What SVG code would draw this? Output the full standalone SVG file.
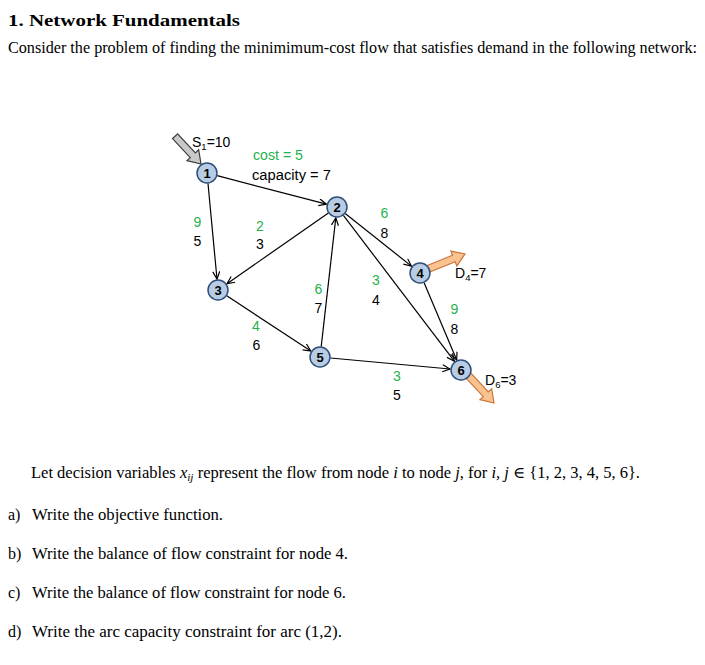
<svg xmlns="http://www.w3.org/2000/svg" width="705" height="665" viewBox="0 0 705 665">
<defs>
<marker id="ah" markerWidth="10" markerHeight="10" refX="8" refY="4" orient="auto" markerUnits="userSpaceOnUse">
<path d="M0.5,0.5 L8,4 L0.5,7.5" fill="none" stroke="#000" stroke-width="1.2"/>
</marker>
</defs>
<style>
.tex{font-family:"Liberation Serif","DejaVu Serif",serif;font-size:16px;fill:#000}
.lab{font-family:"Liberation Sans",Arial,sans-serif;font-size:14px;fill:#000}
.g{fill:#1fb24c}
.node circle{fill:#b8cce4;stroke:#2f4f7a;stroke-width:1.5}
.node text{font-family:"Liberation Sans",Arial,sans-serif;font-size:13px;font-weight:bold;fill:#000;text-anchor:middle}
.edge{stroke:#000;stroke-width:1.2;fill:none;marker-end:url(#ah)}
.num{text-anchor:middle}
.dem{fill:#f9c28f;stroke:#c8763a;stroke-width:1.2}
</style>
<rect width="705" height="665" fill="#fff"/>
<text class="tex" x="8" y="26" font-size="17" font-weight="bold" textLength="232" lengthAdjust="spacingAndGlyphs">1. Network Fundamentals</text>
<text class="tex" x="8" y="53" textLength="689" lengthAdjust="spacingAndGlyphs">Consider the problem of finding the minimimum-cost flow that satisfies demand in the following network:</text>

<g id="connectors">
<line class="edge" x1="217.2" y1="175.7" x2="326.4" y2="204.2"/>
<line class="edge" x1="208" y1="183.5" x2="217" y2="279"/>
<line class="edge" x1="328.4" y1="213" x2="227" y2="283.7"/>
<line class="edge" x1="226.8" y1="295.8" x2="310.8" y2="351"/>
<line class="edge" x1="321.2" y1="346.6" x2="335.8" y2="217.9"/>
<line class="edge" x1="345.2" y1="213.5" x2="411.4" y2="266.1"/>
<line class="edge" x1="343.4" y1="215.4" x2="454.3" y2="361.2"/>
<line class="edge" x1="424.1" y1="282.7" x2="456.7" y2="359.9"/>
<line class="edge" x1="330.5" y1="358" x2="450" y2="369"/>
</g>

<g id="supply1">
<polygon transform="translate(201,164) rotate(47)" points="-38,-3.5 -12,-3.5 -12,-8 0,0 -12,8 -12,3.5 -38,3.5" fill="#c9c9c9" stroke="#3a3a3a" stroke-width="1.2"/>
<text class="lab" x="192" y="147">S<tspan font-size="9.5" dy="3">1</tspan><tspan dy="-3">=10</tspan></text>
</g>
<g id="demand4">
<polygon class="dem" transform="translate(465,254) rotate(-22)" points="-40,-3.5 -12,-3.5 -12,-8 0,0 -12,8 -12,3.5 -40,3.5"/>
<text class="lab" x="455" y="278">D<tspan font-size="9.5" dy="3">4</tspan><tspan dy="-3">=7</tspan></text>
</g>
<g id="demand6">
<polygon class="dem" transform="translate(494,403) rotate(47)" points="-40,-3.5 -12,-3.5 -12,-8 0,0 -12,8 -12,3.5 -40,3.5"/>
<text class="lab" x="485" y="385">D<tspan font-size="9.5" dy="3">6</tspan><tspan dy="-3">=3</tspan></text>
</g>

<g id="labels">
<text class="lab g" x="253" y="160" textLength="50" lengthAdjust="spacingAndGlyphs">cost = 5</text>
<text class="lab" x="252" y="180" textLength="79" lengthAdjust="spacingAndGlyphs">capacity = 7</text>
<text class="lab g num" x="197.5" y="226.5">9</text>
<text class="lab num" x="197.5" y="245.5">5</text>
<text class="lab g num" x="260" y="231">2</text>
<text class="lab num" x="260" y="249">3</text>
<text class="lab g num" x="318.5" y="294">6</text>
<text class="lab num" x="318.5" y="313">7</text>
<text class="lab g num" x="256" y="331">4</text>
<text class="lab num" x="256.5" y="350">6</text>
<text class="lab g num" x="384.5" y="217.5">6</text>
<text class="lab num" x="384.5" y="237.5">8</text>
<text class="lab g num" x="376" y="285">3</text>
<text class="lab num" x="376" y="305">4</text>
<text class="lab g num" x="454.5" y="314">9</text>
<text class="lab num" x="454.5" y="334">8</text>
<text class="lab g num" x="397" y="380.5">3</text>
<text class="lab num" x="397" y="400">5</text>
</g>

<g id="node1" class="node"><circle cx="207" cy="173" r="10"/><text x="207" y="177.5">1</text></g>
<g id="node2" class="node"><circle cx="337" cy="207" r="10"/><text x="337" y="211.5">2</text></g>
<g id="node3" class="node"><circle cx="218" cy="290" r="10"/><text x="218" y="294.5">3</text></g>
<g id="node4" class="node"><circle cx="420" cy="273" r="10"/><text x="420" y="277.5">4</text></g>
<g id="node5" class="node"><circle cx="320" cy="357" r="10"/><text x="320" y="361.5">5</text></g>
<g id="node6" class="node"><circle cx="461" cy="370" r="10"/><text x="461" y="374.5">6</text></g>

<text class="tex" x="31" y="478" textLength="609" lengthAdjust="spacingAndGlyphs">Let decision variables <tspan font-style="italic">x</tspan><tspan font-style="italic" font-size="11" dy="3">ij</tspan><tspan dy="-3"> represent the flow from node </tspan><tspan font-style="italic">i</tspan> to node <tspan font-style="italic">j</tspan>, for <tspan font-style="italic">i, j</tspan> ∈ {1, 2, 3, 4, 5, 6}.</text>
<text class="tex" x="8" y="520">a)</text>
<text class="tex" x="32" y="520" textLength="191" lengthAdjust="spacingAndGlyphs">Write the objective function.</text>
<text class="tex" x="8" y="559">b)</text>
<text class="tex" x="32" y="559" textLength="316" lengthAdjust="spacingAndGlyphs">Write the balance of flow constraint for node 4.</text>
<text class="tex" x="8" y="598">c)</text>
<text class="tex" x="32" y="598" textLength="314" lengthAdjust="spacingAndGlyphs">Write the balance of flow constraint for node 6.</text>
<text class="tex" x="8" y="637">d)</text>
<text class="tex" x="32" y="637" textLength="310" lengthAdjust="spacingAndGlyphs">Write the arc capacity constraint for arc (1,2).</text>
</svg>
